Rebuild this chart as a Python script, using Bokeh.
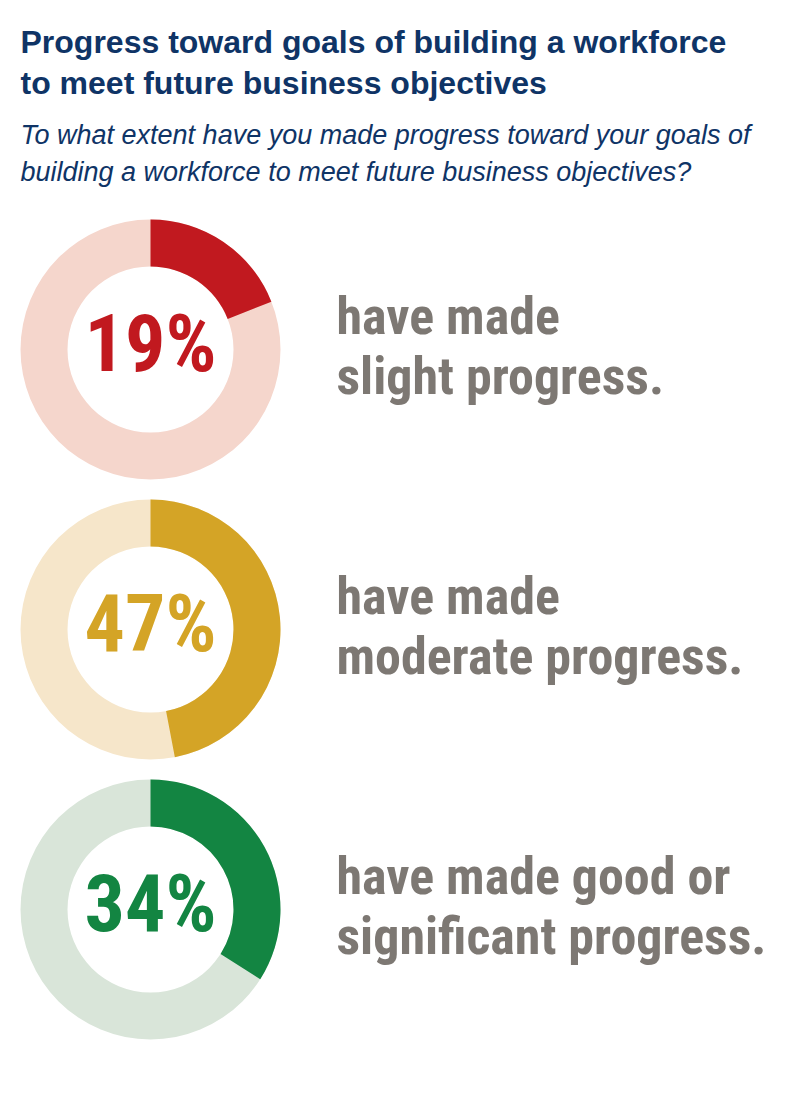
from bokeh.plotting import figure
from bokeh.models import Range1d
from bokeh.core.properties import value
from bokeh.embed import file_html
from bokeh.resources import INLINE

# ---- data ----
percents = [19, 47, 34]
labels_line1 = ["have made", "have made", "have made good or"]
labels_line2 = ["slight progress.", "moderate progress.", "significant progress."]
dark_colors = ["#c1191f", "#d4a426", "#138542"]
light_colors = ["#f5d6cc", "#f6e6ca", "#d9e5d9"]
title_lines = ["Progress toward goals of building a workforce",
               "to meet future business objectives"]
subtitle_lines = ["To what extent have you made progress toward your goals of",
                  "building a workforce to meet future business objectives?"]

W, H = 790, 1080
p = figure(width=W, height=H, output_backend="svg", toolbar_location=None,
           x_range=Range1d(0, W), y_range=Range1d(0, H),
           min_border=0, outline_line_color=None)
p.axis.visible = False
p.grid.visible = False
p.background_fill_color = "white"

def Y(img_y):
    return H - img_y

def TY(img_baseline, size):
    # empirical correction for text baseline placement
    return H - (img_baseline - 0.37 * size)

NARROW = "'Liberation Sans Narrow', 'Roboto Condensed', 'Arial Narrow', Roboto"

cx = 150
centers_img = [349, 629, 909]
R_OUT, R_IN = 130, 83
PCT = 80
LBL = 52

for i, v in enumerate(percents):
    cy = Y(centers_img[i])
    p.annulus(x=[cx], y=[cy], inner_radius=R_IN, outer_radius=R_OUT,
              fill_color=light_colors[i], line_color=None)
    p.annular_wedge(x=[cx], y=[cy], inner_radius=R_IN, outer_radius=R_OUT,
                    start_angle=[90 - v * 3.6], end_angle=[90],
                    start_angle_units="deg", end_angle_units="deg",
                    direction="anticlock",
                    fill_color=dark_colors[i], line_color=None)
    p.text(x=[cx], y=[TY(centers_img[i] + 24, PCT)], text=[f"{v}%"],
           text_font=value(NARROW), text_font_style="bold",
           text_font_size=f"{PCT}px", text_color=dark_colors[i],
           text_align="center", text_baseline="alphabetic")
    p.text(x=[336], y=[TY(centers_img[i] - 14, LBL)], text=[labels_line1[i]],
           text_font=value(NARROW), text_font_style="bold", text_font_size=f"{LBL}px",
           text_color="#7d7873", text_align="left", text_baseline="alphabetic")
    p.text(x=[336], y=[TY(centers_img[i] + 46, LBL)], text=[labels_line2[i]],
           text_font=value(NARROW), text_font_style="bold", text_font_size=f"{LBL}px",
           text_color="#7d7873", text_align="left", text_baseline="alphabetic")

for j, t in enumerate(title_lines):
    p.text(x=[20], y=[TY(53 + j * 41, 32)], text=[t],
           text_font=value("Liberation Sans"), text_font_style="bold",
           text_font_size="32px", text_color="#0f3466",
           text_align="left", text_baseline="alphabetic")

for j, t in enumerate(subtitle_lines):
    p.text(x=[20], y=[TY(144 + j * 37, 27)], text=[t],
           text_font=value("Liberation Sans"), text_font_style="italic",
           text_font_size="27px", text_color="#0f3466",
           text_align="left", text_baseline="alphabetic")

open("out.html", "w").write(file_html(p, INLINE))
